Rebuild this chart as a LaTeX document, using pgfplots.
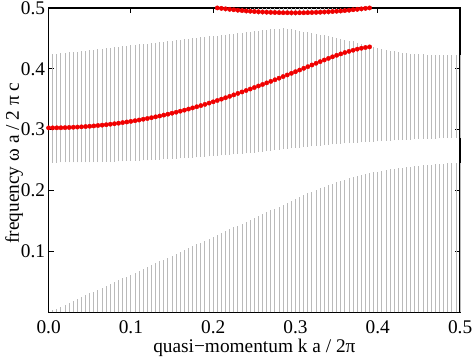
\documentclass[border=0pt]{standalone}
\usepackage{pgfplots}
\usepackage{pgfplotstable}
\pgfplotsset{compat=1.18}
\usepackage{fontspec}
\setmainfont{Liberation Serif}
\definecolor{bandgray}{RGB}{186,186,186}
\definecolor{modered}{RGB}{240,0,0}

% k, top of lower band (L), bottom (M1) and top (M2) of middle band
\pgfplotstableread{
k L M1 M2
0.005 0.0031 0.2461 0.4238
0.010 0.0062 0.2461 0.4245
0.015 0.0093 0.2462 0.4253
0.020 0.0124 0.2462 0.4261
0.025 0.0155 0.2463 0.4269
0.030 0.0186 0.2463 0.4276
0.035 0.0217 0.2464 0.4284
0.040 0.0248 0.2464 0.4292
0.045 0.0279 0.2465 0.4299
0.050 0.0310 0.2465 0.4307
0.055 0.0341 0.2467 0.4315
0.060 0.0372 0.2469 0.4323
0.065 0.0403 0.2471 0.4330
0.070 0.0434 0.2473 0.4338
0.075 0.0465 0.2475 0.4346
0.080 0.0496 0.2477 0.4354
0.085 0.0527 0.2479 0.4361
0.090 0.0558 0.2481 0.4369
0.095 0.0589 0.2483 0.4377
0.100 0.0620 0.2485 0.4384
0.105 0.0651 0.2489 0.4392
0.110 0.0682 0.2492 0.4400
0.115 0.0713 0.2496 0.4408
0.120 0.0744 0.2499 0.4415
0.125 0.0775 0.2503 0.4423
0.130 0.0806 0.2506 0.4431
0.135 0.0837 0.2510 0.4438
0.140 0.0868 0.2513 0.4446
0.145 0.0899 0.2517 0.4454
0.150 0.0930 0.2520 0.4462
0.155 0.0961 0.2525 0.4469
0.160 0.0992 0.2529 0.4477
0.165 0.1023 0.2534 0.4485
0.170 0.1054 0.2538 0.4492
0.175 0.1085 0.2543 0.4500
0.180 0.1116 0.2547 0.4508
0.185 0.1147 0.2552 0.4516
0.190 0.1178 0.2556 0.4523
0.195 0.1209 0.2561 0.4531
0.200 0.1240 0.2565 0.4539
0.205 0.1271 0.2571 0.4547
0.210 0.1302 0.2577 0.4554
0.215 0.1333 0.2583 0.4562
0.220 0.1364 0.2589 0.4570
0.225 0.1395 0.2595 0.4577
0.230 0.1426 0.2601 0.4585
0.235 0.1457 0.2607 0.4593
0.240 0.1488 0.2613 0.4601
0.245 0.1519 0.2619 0.4608
0.250 0.1550 0.2625 0.4616
0.255 0.1581 0.2633 0.4624
0.260 0.1612 0.2640 0.4631
0.265 0.1643 0.2648 0.4639
0.270 0.1674 0.2655 0.4647
0.275 0.1705 0.2663 0.4655
0.280 0.1736 0.2670 0.4662
0.285 0.1767 0.2678 0.4670
0.290 0.1798 0.2685 0.4660
0.295 0.1829 0.2693 0.4648
0.300 0.1860 0.2700 0.4635
0.305 0.1891 0.2707 0.4623
0.310 0.1922 0.2713 0.4610
0.315 0.1953 0.2720 0.4598
0.320 0.1984 0.2726 0.4585
0.325 0.2013 0.2733 0.4573
0.330 0.2040 0.2739 0.4560
0.335 0.2066 0.2746 0.4548
0.340 0.2091 0.2752 0.4535
0.345 0.2115 0.2759 0.4523
0.350 0.2138 0.2765 0.4510
0.355 0.2160 0.2770 0.4495
0.360 0.2181 0.2774 0.4480
0.365 0.2201 0.2779 0.4465
0.370 0.2220 0.2783 0.4450
0.375 0.2238 0.2788 0.4430
0.380 0.2255 0.2792 0.4410
0.385 0.2271 0.2797 0.4393
0.390 0.2286 0.2801 0.4375
0.395 0.2300 0.2806 0.4358
0.400 0.2313 0.2810 0.4340
0.405 0.2325 0.2814 0.4325
0.410 0.2337 0.2817 0.4310
0.415 0.2348 0.2821 0.4298
0.420 0.2358 0.2824 0.4285
0.425 0.2368 0.2828 0.4275
0.430 0.2377 0.2831 0.4265
0.435 0.2386 0.2835 0.4257
0.440 0.2394 0.2838 0.4250
0.445 0.2401 0.2842 0.4245
0.450 0.2408 0.2845 0.4240
0.455 0.2415 0.2848 0.4237
0.460 0.2421 0.2850 0.4235
0.465 0.2427 0.2853 0.4232
0.470 0.2432 0.2855 0.4230
0.475 0.2437 0.2858 0.4230
0.480 0.2442 0.2860 0.4230
0.485 0.2446 0.2863 0.4230
0.490 0.2450 0.2865 0.4230
0.495 0.2453 0.2868 0.4230
0.500 0.2455 0.2870 0.4230
}\bands

% upper band: bottom of the gray lines (top is 0.5)
\pgfplotstableread{
k lo
0.210 0.4948
0.215 0.4940
0.220 0.4932
0.225 0.4925
0.230 0.4918
0.235 0.4912
0.240 0.4906
0.245 0.4901
0.250 0.4896
0.255 0.4892
0.260 0.4888
0.265 0.4885
0.270 0.4882
0.275 0.4880
0.280 0.4878
0.285 0.4876
0.290 0.4876
0.295 0.4875
0.300 0.4875
0.305 0.4876
0.310 0.4876
0.315 0.4878
0.320 0.4880
0.325 0.4882
0.330 0.4885
0.335 0.4888
0.340 0.4892
0.345 0.4896
0.350 0.4901
0.355 0.4906
0.360 0.4912
0.365 0.4918
0.370 0.4925
0.375 0.4932
0.380 0.4940
0.385 0.4948
}\upband

% lower guided mode
\pgfplotstableread{
k w
0.000 0.3030
0.005 0.3030
0.010 0.3031
0.015 0.3032
0.020 0.3034
0.025 0.3037
0.030 0.3040
0.035 0.3043
0.040 0.3047
0.045 0.3052
0.050 0.3057
0.055 0.3062
0.060 0.3069
0.065 0.3075
0.070 0.3082
0.075 0.3090
0.080 0.3098
0.085 0.3107
0.090 0.3117
0.095 0.3127
0.100 0.3137
0.105 0.3148
0.110 0.3159
0.115 0.3172
0.120 0.3184
0.125 0.3197
0.130 0.3211
0.135 0.3225
0.140 0.3240
0.145 0.3255
0.150 0.3271
0.155 0.3287
0.160 0.3304
0.165 0.3321
0.170 0.3339
0.175 0.3358
0.180 0.3377
0.185 0.3396
0.190 0.3416
0.195 0.3437
0.200 0.3458
0.205 0.3480
0.210 0.3502
0.215 0.3525
0.220 0.3548
0.225 0.3572
0.230 0.3596
0.235 0.3620
0.240 0.3644
0.245 0.3668
0.250 0.3693
0.255 0.3718
0.260 0.3743
0.265 0.3769
0.270 0.3794
0.275 0.3820
0.280 0.3846
0.285 0.3873
0.290 0.3899
0.295 0.3926
0.300 0.3953
0.305 0.3980
0.310 0.4008
0.315 0.4035
0.320 0.4063
0.325 0.4091
0.330 0.4118
0.335 0.4145
0.340 0.4171
0.345 0.4197
0.350 0.4222
0.355 0.4245
0.360 0.4267
0.365 0.4287
0.370 0.4305
0.375 0.4323
0.380 0.4338
0.385 0.4350
0.390 0.4360
}\modeA

% upper guided mode
\pgfplotstableread{
k w
0.205 0.5000
0.210 0.4993
0.215 0.4985
0.220 0.4977
0.225 0.4970
0.230 0.4963
0.235 0.4957
0.240 0.4951
0.245 0.4946
0.250 0.4941
0.255 0.4937
0.260 0.4933
0.265 0.4930
0.270 0.4927
0.275 0.4925
0.280 0.4923
0.285 0.4921
0.290 0.4921
0.295 0.4920
0.300 0.4920
0.305 0.4921
0.310 0.4921
0.315 0.4923
0.320 0.4925
0.325 0.4927
0.330 0.4930
0.335 0.4933
0.340 0.4937
0.345 0.4941
0.350 0.4946
0.355 0.4951
0.360 0.4957
0.365 0.4963
0.370 0.4970
0.375 0.4977
0.380 0.4985
0.385 0.4993
0.390 0.5000
}\modeB

\begin{document}
\begin{tikzpicture}
\begin{axis}[
  scale only axis,
  width=415pt, height=307pt,
  xmin=0, xmax=0.5, ymin=0, ymax=0.5,
  xtick={0,0.1,0.2,0.3,0.4,0.5},
  xticklabels={0.0,0.1,0.2,0.3,0.4,0.5},
  ytick={0.1,0.2,0.3,0.4,0.5},
  yticklabels={0.1,0.2,0.3,0.4,0.5},
  tick pos=both,
  tick align=inside,
  major tick length=5pt,
  tick style={black, line width=1pt},
  axis line style={black, line width=1.3pt},
  /pgf/number format/assume math mode=true,
  tick label style={font=\fontsize{19.5}{22}\selectfont},
  label style={font=\fontsize{19.5}{22}\selectfont},
  xticklabel style={yshift=-5pt},
  yticklabel style={xshift=0pt},
  xlabel={quasi−momentum k a / 2π},
  ylabel={frequency ω a / 2 π c},
  xlabel style={at={([yshift=-40pt]axis description cs:0.5,0)}, anchor=base},
  ylabel style={at={([xshift=-30pt]axis description cs:0,0.49)}, anchor=base},
  clip=false,
]
\addplot[bandgray, line width=1pt, quiver={u=0, v=\thisrow{L}}] table[x=k, y expr=0] {\bands};
\addplot[bandgray, line width=1pt, quiver={u=0, v=\thisrow{M2}-\thisrow{M1}}] table[x=k, y=M1] {\bands};
\addplot[bandgray, line width=1pt, quiver={u=0, v=0.5-\thisrow{lo}}] table[x=k, y=lo] {\upband};
\addplot[only marks, mark=*, mark size=2.2pt, color=modered] table[x=k, y=w] {\modeA};
\addplot[only marks, mark=*, mark size=2.2pt, color=modered] table[x=k, y=w] {\modeB};
\coordinate (sw) at (rel axis cs:0,0);
\coordinate (ne) at (rel axis cs:1,1);
\end{axis}
\pgfresetboundingbox
\path[use as bounding box] ([shift={(-49pt,-46pt)}]sw) rectangle ([shift={(14pt,8pt)}]ne);
\end{tikzpicture}
\end{document}
